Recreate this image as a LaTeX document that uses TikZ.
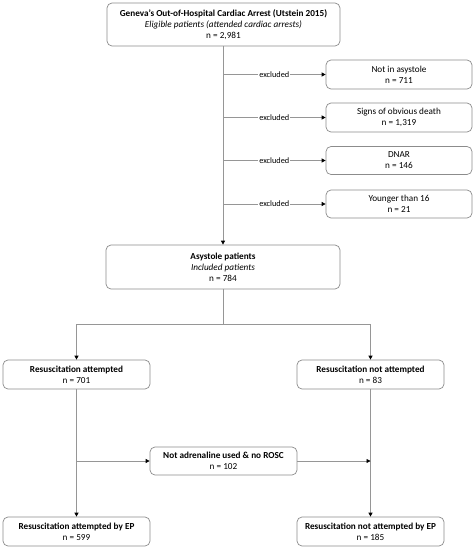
\documentclass[tikz,border=0pt]{standalone}
\usepackage{fontspec}
\setmainfont{Carlito}
\usetikzlibrary{arrows.meta}
\definecolor{linegray}{RGB}{150,150,150}
\definecolor{boxgray}{RGB}{140,140,140}
\tikzset{
  box/.style={draw=boxgray, line width=0.7pt, rounded corners=5pt, fill=white, align=center,
    font=\fontsize{9.2}{11}\selectfont, inner sep=1pt},
  conn/.style={draw=linegray, line width=0.8pt},
  arr/.style={conn, -{Triangle[length=4pt,width=4pt,fill=black,color=black]}},
  exlab/.style={fill=white, inner sep=1pt, font=\fontsize{8.3}{9}\selectfont},
}
\begin{document}
\begin{tikzpicture}[x=1pt,y=-1pt]
\useasboundingbox[fill=white] (0,0) rectangle (476,550);
\node[box, minimum width=233pt, minimum height=43pt] (top) at (223.5,24.5)
  {\textbf{Geneva’s Out-of-Hospital Cardiac Arrest (Utstein 2015)}\\\textit{Eligible patients (attended cardiac arrests)}\\n = 2,981};
\node[box, minimum width=146pt, minimum height=29pt] (ex1) at (399,74.5) {Not in asystole\\n = 711};
\node[box, minimum width=146pt, minimum height=29pt] (ex2) at (399,117.5) {Signs of obvious death\\n = 1,319};
\node[box, minimum width=146pt, minimum height=28pt] (ex3) at (399,160.5) {DNAR\\n = 146};
\node[box, minimum width=146pt, minimum height=28pt] (ex4) at (399,204) {Younger than 16\\n = 21};
\node[box, minimum width=234pt, minimum height=44pt] (asy) at (223,267)
  {\textbf{Asystole patients}\\\textit{Included patients}\\n = 784};
\node[box, minimum width=147pt, minimum height=29pt] (ra) at (76.5,374.5) {\textbf{Resuscitation attempted}\\n = 701};
\node[box, minimum width=147pt, minimum height=29pt] (rna) at (370.5,374.5) {\textbf{Resuscitation not attempted}\\n = 83};
\node[box, minimum width=147pt, minimum height=28pt] (mid) at (223.5,461) {\textbf{Not adrenaline used \& no ROSC}\\n = 102};
\node[box, minimum width=147pt, minimum height=29pt] (rae) at (76.5,531.5) {\textbf{Resuscitation attempted by EP}\\n = 599};
\node[box, minimum width=147pt, minimum height=29pt] (rnae) at (370.5,531.5) {\textbf{Resuscitation not attempted by EP}\\n = 185};

\coordinate (j1) at (223,74.5);
\coordinate (j2) at (223,117.5);
\coordinate (j3) at (223,160.5);
\coordinate (j4) at (223,204);
\coordinate (split) at (223,324);
\coordinate (ml) at (76.5,461);
\coordinate (mr) at (370.5,461);

\draw[arr] (top.south -| j1) -- (asy.north -| j1);
\foreach \i in {1,2,3,4}{
  \draw[arr] (j\i) -- node[exlab, pos=0.5] {excluded} (ex\i.west);
}
\draw[conn] (asy.south -| split) -- (split);
\draw[arr] (split) -| (ra.north);
\draw[arr] (split) -| (rna.north);
\draw[arr] (ra.south) -- (rae.north);
\draw[arr] (rna.south) -- (rnae.north);
\draw[arr] (ml) -- (mid.west);
\draw[arr] (mid.east) -- (mr);
\end{tikzpicture}
\end{document}
